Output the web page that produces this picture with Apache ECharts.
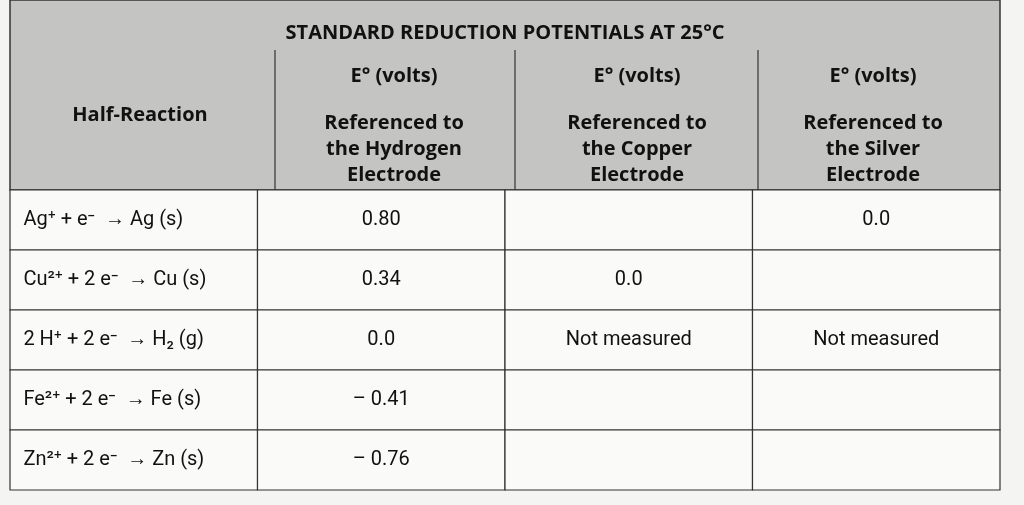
<!DOCTYPE html>
<html>
<head>
<meta charset="UTF-8">
<title>Standard Reduction Potentials</title>
<script src="https://cdn.jsdelivr.net/npm/echarts@6/dist/echarts.min.js"></script>
<style>body{margin:0;background:#f4f4f2;}</style>
</head>
<body>
<div id="main" style="width:1024px;height:505px;"></div>
<script type="text/javascript">
var halfReactions = ['Ag\u207A + e\u207B  \u2192 Ag (s)', 'Cu\u00B2\u207A + 2 e\u207B  \u2192 Cu (s)', '2 H\u207A + 2 e\u207B  \u2192 H\u2082 (g)', 'Fe\u00B2\u207A + 2 e\u207B  \u2192 Fe (s)', 'Zn\u00B2\u207A + 2 e\u207B  \u2192 Zn (s)'];
var vsHydrogen = ['0.80', '0.34', '0.0', '\u2013 0.41', '\u2013 0.76'];
var vsCopper = ['', '0.0', 'Not measured', '', ''];
var vsSilver = ['0.0', '', 'Not measured', '', ''];
var columns = ['Half-Reaction', 'Hydrogen', 'Copper', 'Silver'];

var myChart = echarts.init(document.getElementById('main'));

// 拼成表格单元 [列, 行, 文本]
var cells = [];
var cols = [halfReactions, vsHydrogen, vsCopper, vsSilver];
for (var c = 0; c < cols.length; c++) {
    for (var r = 0; r < halfReactions.length; r++) {
        cells.push([c, r, cols[c][r]]);
    }
}

var colX = [140, 394, 637, 873];
var hdr = [];
hdr.push({type: 'rect', shape: {x: 10, y: 0, width: 990, height: 190}, style: {fill: '#c4c4c2', stroke: '#333', lineWidth: 1.5}});
[275, 515, 758].forEach(function (x) {
    hdr.push({type: 'line', shape: {x1: x, y1: 50, x2: x, y2: 190}, style: {stroke: '#333', lineWidth: 1.2}});
});
hdr.push({type: 'text', x: 505, y: 33, style: {text: 'STANDARD REDUCTION POTENTIALS AT 25\u00B0C', font: 'bold 20px "Open Sans"', fill: '#111', align: 'center', verticalAlign: 'middle'}});
hdr.push({type: 'text', x: colX[0], y: 115, style: {text: 'Half-Reaction', font: 'bold 20px "Open Sans"', fill: '#111', align: 'center', verticalAlign: 'middle'}});
for (var i = 1; i < 4; i++) {
    hdr.push({type: 'text', x: colX[i], y: 76, style: {text: 'E\u00B0 (volts)', font: 'bold 20px "Open Sans"', fill: '#111', align: 'center', verticalAlign: 'middle'}});
    hdr.push({type: 'text', x: colX[i], y: 149, style: {text: 'Referenced to\nthe ' + columns[i] + '\nElectrode', font: 'bold 20px "Open Sans"', lineHeight: 26, fill: '#111', align: 'center', verticalAlign: 'middle'}});
}

var option = {
    backgroundColor: '#f4f4f2',
    animation: false,
    grid: {left: 10, right: 24, top: 190, bottom: 15},
    xAxis: {type: 'category', data: columns, show: false},
    yAxis: {type: 'category', data: halfReactions, inverse: true, show: false},
    graphic: hdr,
    series: [{
        type: 'custom',
        data: cells,
        renderItem: function (params, api) {
            var p = api.coord([api.value(0), api.value(1)]);
            var s = api.size([1, 1]);
            var first = api.value(0) === 0;
            return {
                type: 'rect',
                shape: {x: p[0] - s[0] / 2, y: p[1] - s[1] / 2, width: s[0], height: s[1]},
                style: {fill: '#fafaf8', stroke: '#333', lineWidth: 1.2},
                textContent: {style: {text: cells[params.dataIndex][2], font: '20px Roboto', fill: '#111'}},
                textConfig: first ? {position: 'insideLeft', distance: 14} : {position: 'inside'}
            };
        }
    }]
};

myChart.setOption(option);
</script>
</body>
</html>
